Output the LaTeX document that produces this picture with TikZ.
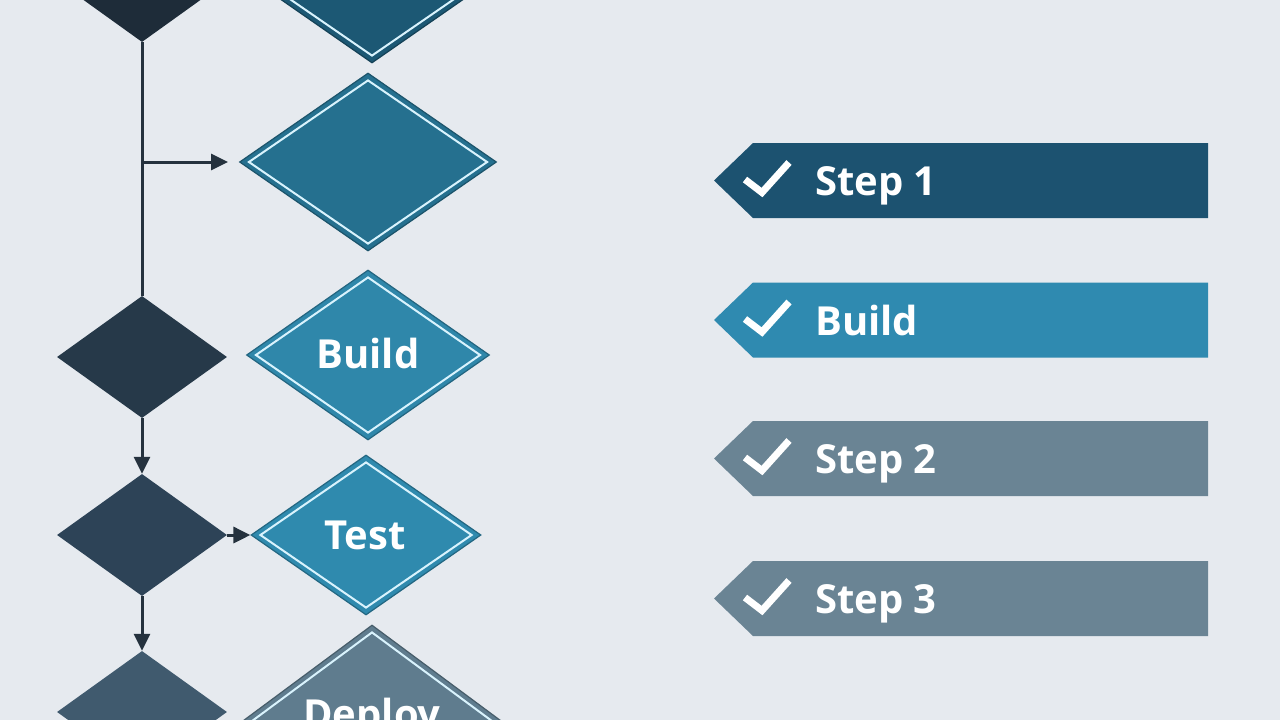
\documentclass[tikz,border=0pt]{standalone}
\usepackage{fontspec}
\setmainfont{Open Sans}
\usetikzlibrary{shapes.geometric,arrows.meta,calc}
\definecolor{bg}{HTML}{E6EAEF}
\definecolor{lineC}{HTML}{25323E}
\definecolor{dA}{HTML}{1E2C39}
\definecolor{dB}{HTML}{263949}
\definecolor{dC}{HTML}{2D4357}
\definecolor{dD}{HTML}{405A6E}
\definecolor{tA}{HTML}{1C5874}
\definecolor{tB}{HTML}{25708F}
\definecolor{tC}{HTML}{2F87AA}
\definecolor{tD}{HTML}{2F8AAE}
\definecolor{tE}{HTML}{5F7C8E}
\definecolor{bA}{HTML}{1C5270}
\definecolor{bB}{HTML}{2F8AB0}
\definecolor{bC}{HTML}{6A8494}
\begin{document}
\begin{tikzpicture}[x=1pt,y=1pt,
  darkdia/.style={diamond, inner sep=0pt, minimum width=170pt, minimum height=122pt},
  tealdia/.style={diamond, inner sep=0pt, draw=#1!75!black, line width=1.2pt, fill=#1},
  innerdia/.style={diamond, inner sep=0pt, draw=white!85!cyan, line width=2pt},
  lbl/.style={text=white, font=\fontsize{40}{42}\selectfont\bfseries},
  conn/.style={draw=lineC, line width=3pt},
  arr/.style={conn, -{Triangle[length=17pt,width=16pt]}},
  check/.style={draw=white, line width=7pt, line cap=butt, line join=miter}
]
\useasboundingbox (0,0) rectangle (1280,-720);
\clip (0,0) rectangle (1280,-720);
\fill[bg] (0,0) rectangle (1280,-720);

% dark decision diamonds
\node[darkdia, fill=dA] (d1) at (142,19) {};
\node[darkdia, fill=dB] (d2) at (142,-357) {};
\node[darkdia, fill=dC] (d3) at (142,-535) {};
\node[darkdia, fill=dD] (d4) at (142,-712) {};

% teal process diamonds
\node[tealdia=tA, minimum width=256pt, minimum height=178pt] (t1) at (372,26) {};
\node[innerdia, minimum width=238pt, minimum height=164pt] (t1i) at (t1.center) {};
\node[tealdia=tB, minimum width=257pt, minimum height=178pt] (t2) at (368,-162) {};
\node[innerdia, minimum width=239pt, minimum height=164pt] (t2i) at (t2.center) {};
\node[tealdia=tC, minimum width=243pt, minimum height=170pt] (t3) at (368,-355) {};
\node[innerdia, minimum width=225pt, minimum height=156pt] (t3i) at (t3.center) {};
\node[lbl] (t3l) at (368,-353) {Build};
\node[tealdia=tD, minimum width=230pt, minimum height=160pt] (t4) at (366,-535) {};
\node[innerdia, minimum width=212pt, minimum height=146pt] (t4i) at (t4.center) {};
\node[lbl] (t4l) at (365,-535) {Test};
\node[tealdia=tE, minimum width=256pt, minimum height=190pt] (t5) at (372,-720) {};
\node[innerdia, minimum width=238pt, minimum height=176pt] (t5i) at (t5.center) {};
\node[lbl] (t5l) at (372,-718) {Deploy};

% connectors
\coordinate (br) at (142,-162);
\draw[conn] (d1.south) -- (d2.north);
\draw[arr] (br) -- (228,-162) coordinate (brEnd);
\draw[arr] (d2.south) -- (d3.north);
\draw[arr] (d3.east) -- (t4.west);
\draw[arr] (d4.north |- d3.south) -- (d4.north);

% banners
\foreach \cy/\col/\txt/\nm in {180.5/bA/{Step 1}/b1, 320/bB/Build/b2, 458.5/bC/{Step 2}/b3, 598.5/bC/{Step 3}/b4}{
  \fill[\col] (714,-\cy) -- (753,-\cy+37.5) -- (1208,-\cy+37.5) -- (1208,-\cy-37.5) -- (753,-\cy-37.5) -- cycle;
  \draw[check] (745,-\cy+1) -- (762,-\cy-12) -- (789,-\cy+18);
  \node[lbl, anchor=base west, inner sep=0pt] (\nm) at (815,-\cy-15) {\txt};
}
\end{tikzpicture}
\end{document}
